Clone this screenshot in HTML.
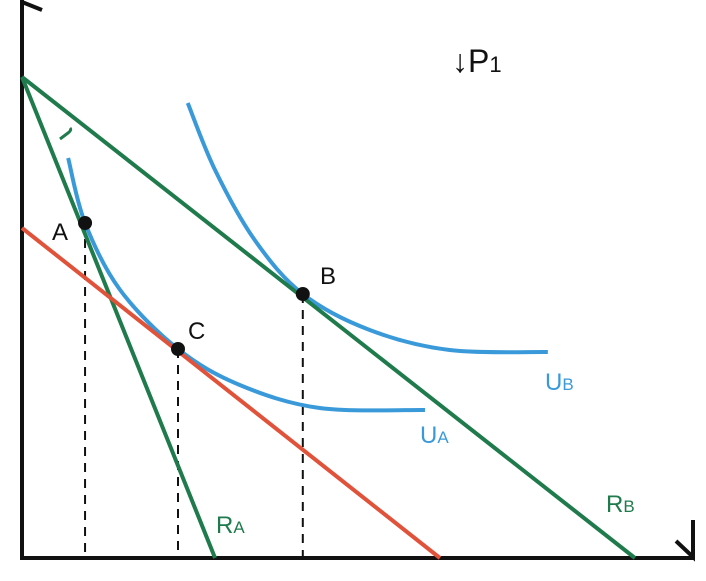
<!DOCTYPE html>
<html><head><meta charset="utf-8"><style>
body{margin:0;background:#fff;}
svg{display:block;font-family:"Liberation Sans",sans-serif;}
</style></head><body>
<svg id="chart" width="706" height="581" viewBox="0 0 706 581">
<g id="axes">
<line x1="22" y1="0" x2="22" y2="560" stroke="#111" stroke-width="4"/>
<line x1="20" y1="558" x2="695" y2="558" stroke="#111" stroke-width="4"/>
<polyline points="22,2 42,10" fill="none" stroke="#111" stroke-width="4"/>
<polyline points="676,541 693,557 693,520" fill="none" stroke="#111" stroke-width="4"/>
</g>
<g id="marks"></g>
<g id="labels" font-size="24">
<text x="452" y="72" font-size="32" fill="#111">↓P<tspan font-size="22">1</tspan></text>
<text x="52" y="240" fill="#111">A</text>
<text x="320" y="284" fill="#111">B</text>
<text x="188" y="339" fill="#111">C</text>
<text x="545" y="390" fill="#3a9ad9">U<tspan font-size="17">B</tspan></text>
<text x="420" y="443" fill="#3a9ad9">U<tspan font-size="17">A</tspan></text>
<text x="606" y="512" fill="#1f7a4c">R<tspan font-size="17">B</tspan></text>
<text x="216" y="533" fill="#1f7a4c">R<tspan font-size="17">A</tspan></text>
<path d="M60,139 L68,133 Q72,130 70,128" fill="none" stroke="#1f7a4c" stroke-width="3"/>
</g>
</svg>
<script>
const lineNames = ["RA","RB","red-budget"];
const lineYIntercepts = [96.2, 96.2, 66];
const lineXIntercepts = [29.7, 94.3, 64.3];
const lineColors = ["#1f7a4c","#1f7a4c","#e0533a"];
const pointNames = ["A","B","C"];
const pointX = [9.7, 43.2, 24];
const pointY = [67, 52.8, 41.8];
const uaX = [7.1, 9.7, 15.1, 24, 33.5, 45.8, 62];
const uaY = [80, 67, 53.6, 41.8, 34.6, 30, 29.6];
const ubX = [25.5, 29.7, 35.8, 43.2, 53.5, 65.8, 80.9];
const ubY = [91, 77.6, 63.6, 52.8, 45.6, 41.6, 41.2];
const xS = v => 22 + v*6.5;
const yS = v => 558 - v*5;
const NS="http://www.w3.org/2000/svg";
const g=document.getElementById('marks');
function mk(t,a){const e=document.createElementNS(NS,t);for(const k in a)e.setAttribute(k,a[k]);g.appendChild(e);return e;}
function smooth(xs,ys){
  const p=xs.map((x,i)=>[xS(x),yS(ys[i])]);
  let d=`M${p[0][0]},${p[0][1]}`;
  for(let i=0;i<p.length-1;i++){
    const p0=p[i-1]||p[i],p1=p[i],p2=p[i+1],p3=p[i+2]||p2;
    const c1=[p1[0]+(p2[0]-p0[0])/6,p1[1]+(p2[1]-p0[1])/6];
    const c2=[p2[0]-(p3[0]-p1[0])/6,p2[1]-(p3[1]-p1[1])/6];
    d+=` C${c1[0]},${c1[1]} ${c2[0]},${c2[1]} ${p2[0]},${p2[1]}`;
  }
  return d;
}
pointX.forEach((x,i)=>{
  const e=mk('line',{x1:xS(x),y1:yS(pointY[i]),x2:xS(x),y2:556,stroke:'#111','stroke-width':2,'stroke-dasharray':'9,7'});
  
  
});
const ua=mk('path',{d:smooth(uaX,uaY),fill:'none',stroke:'#3a9ad9','stroke-width':4});


const ub=mk('path',{d:smooth(ubX,ubY),fill:'none',stroke:'#3a9ad9','stroke-width':4});


lineNames.forEach((n,i)=>{
  const e=mk('line',{x1:xS(0),y1:yS(lineYIntercepts[i]),x2:xS(lineXIntercepts[i]),y2:yS(0),stroke:lineColors[i],'stroke-width':4});
  
  
});
pointNames.forEach((n,i)=>{
  const e=mk('circle',{cx:xS(pointX[i]),cy:yS(pointY[i]),r:7,fill:'#111'});
  
  
});
</script>
</body></html>
